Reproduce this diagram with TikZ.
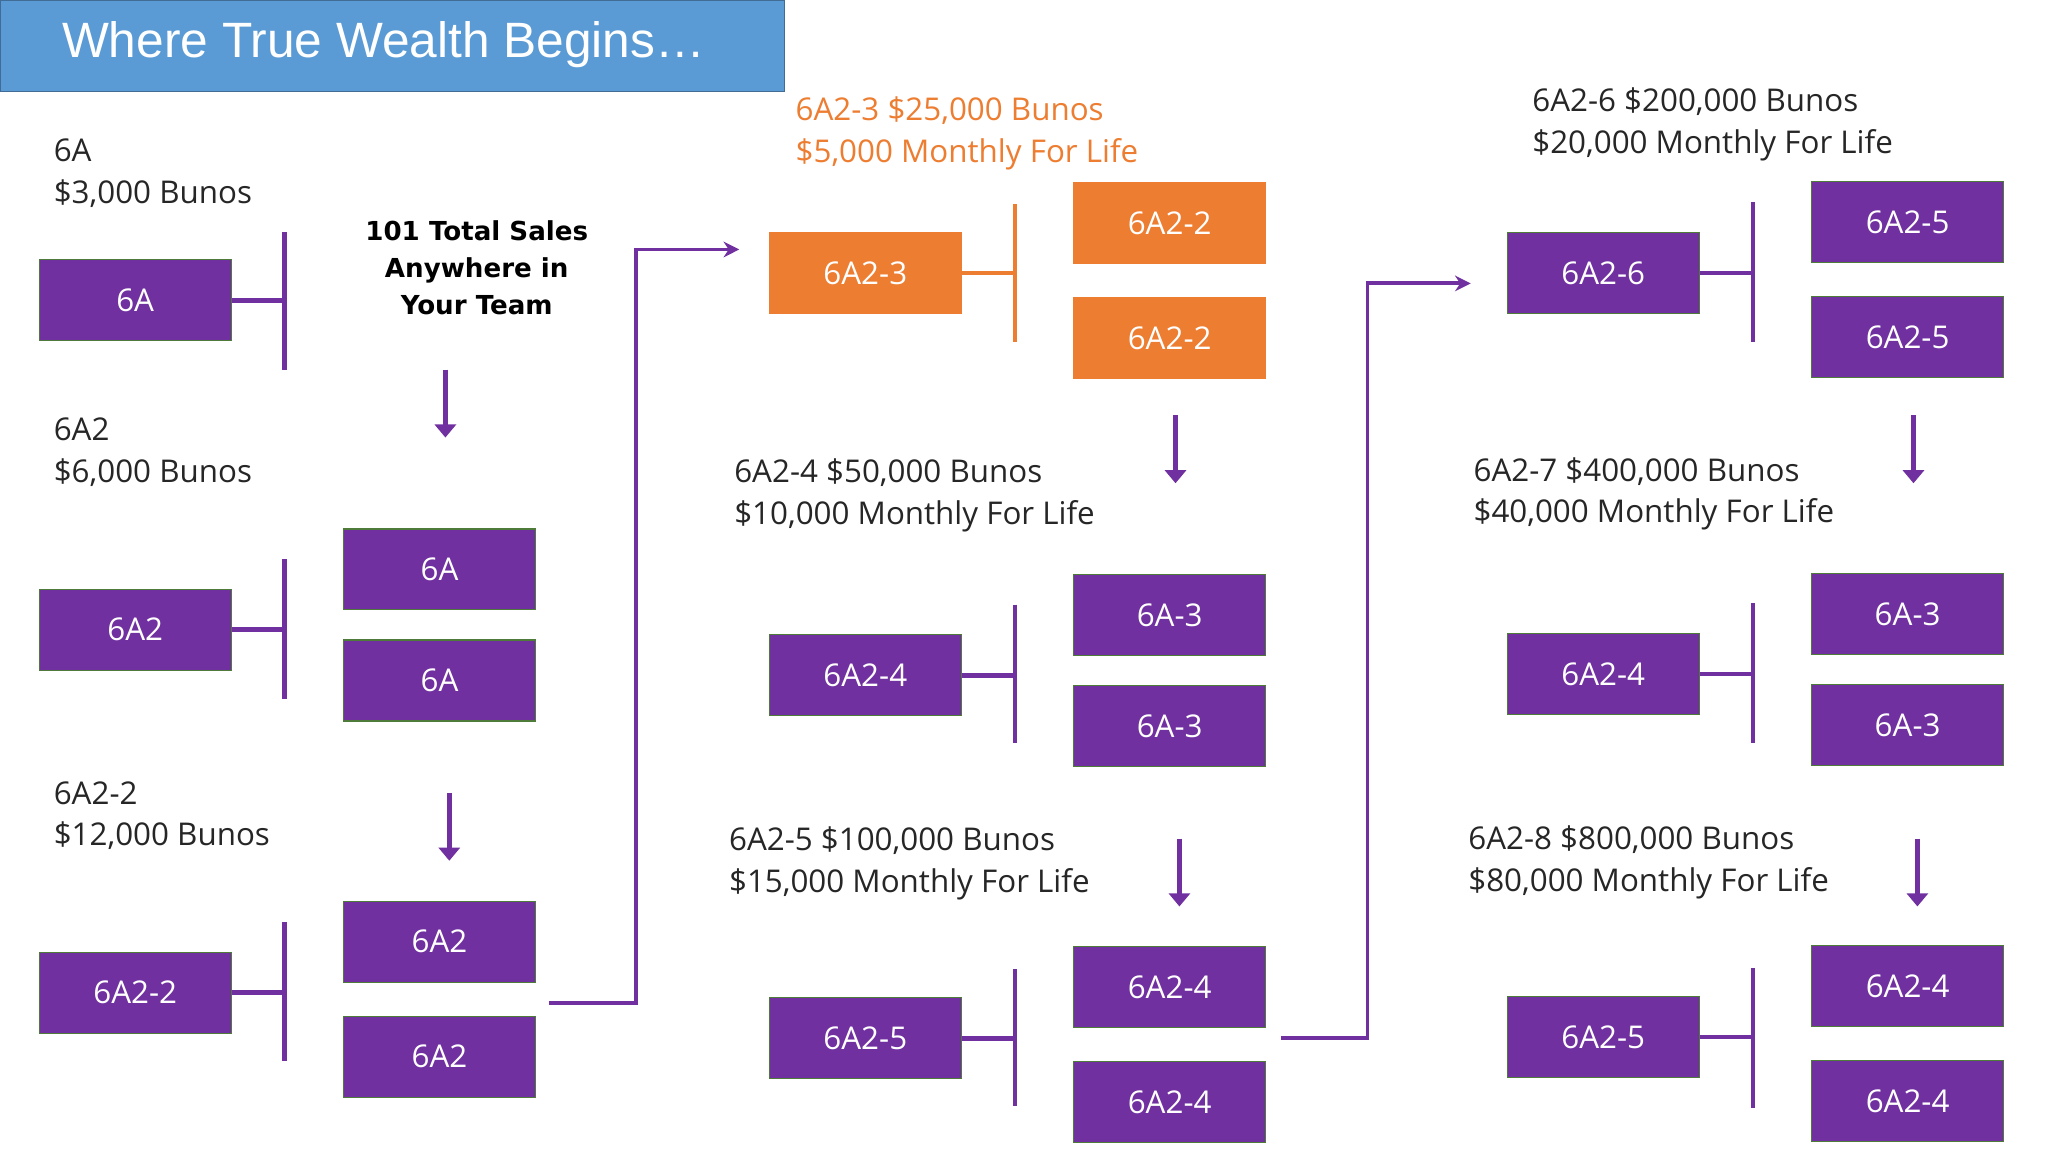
\documentclass[tikz,border=0pt]{standalone}
\usepackage{fontspec}
\setmainfont{Open Sans}
\newfontfamily\titlefont{Liberation Sans}
\newfontfamily\boldfont{DejaVu Sans}
\usetikzlibrary{arrows.meta}
\definecolor{pur}{HTML}{7030A0}
\definecolor{org}{HTML}{ED7D31}
\definecolor{bdr}{HTML}{4E7A3A}
\definecolor{ttl}{HTML}{5B9BD5}
\tikzset{
 bx/.style={draw=bdr,line width=0.8pt,fill=pur,text=white,minimum width=147pt,minimum height=62pt,inner sep=0pt,font=\fontsize{24}{24}\selectfont},
 obx/.style={bx,fill=org,draw=org},
 ln/.style={draw=pur,line width=3.5pt},
 oln/.style={draw=org,line width=3.5pt},
 arr/.style={draw=pur,line width=4pt,-{Triangle[length=10pt,width=16pt]}},
 arrt/.style={draw=pur,line width=3pt,-{Stealth[length=12pt,width=12pt]}},
 lbl/.style={anchor=north west,align=left,inner sep=0pt,text=black!85,font=\fontsize{24}{32}\selectfont},
}
\begin{document}
\begin{tikzpicture}[x=1pt,y=-1pt]
\useasboundingbox (0,0) rectangle (1568,882);
\fill[white] (0,0) rectangle (1568,882);
\node[draw=ttl!70!black,fill=ttl,minimum width=600pt,minimum height=70pt,anchor=north west,inner sep=0pt] (title) at (0,0) {};
\node[anchor=west,text=white,font=\titlefont\fontsize{38}{38}\selectfont] (tt) at (44,34) {Where True Wealth Begins…};
% left column
\node[lbl] (t1) at (41,106) {6A\\\$3,000 Bunos};
\node[bx] (a1) at (103.5,230) {6A};
\coordinate (b1t) at (218,178); \coordinate (b1b) at (218,283); \coordinate (b1m) at (218,230);
\draw[ln] (b1t) -- (b1b); \draw[ln] (a1.east) -- (b1m);
\node[align=center,font=\boldfont\bfseries\fontsize{20}{28}\selectfont] (tot) at (365,205) {101 Total Sales\\Anywhere in\\Your Team};
\coordinate (d1a) at (341,283); \coordinate (d1b) at (341,335);
\draw[arr] (d1a) -- (d1b);
\node[lbl] (t2) at (41,320) {6A2\\\$6,000 Bunos};
\node[bx] (a2) at (103.5,482) {6A2};
\coordinate (b2t) at (218,428); \coordinate (b2b) at (218,535); \coordinate (b2m) at (218,482);
\draw[ln] (b2t) -- (b2b); \draw[ln] (a2.east) -- (b2m);
\node[bx] (a2r1) at (336.5,436) {6A};
\node[bx] (a2r2) at (336.5,521) {6A};
\coordinate (d2a) at (344,607); \coordinate (d2b) at (344,659);
\draw[arr] (d2a) -- (d2b);
\node[lbl] (t3) at (41,598) {6A2-2\\\$12,000 Bunos};
\node[bx] (a3) at (103.5,760) {6A2-2};
\coordinate (b3t) at (218,706); \coordinate (b3b) at (218,812); \coordinate (b3m) at (218,760);
\draw[ln] (b3t) -- (b3b); \draw[ln] (a3.east) -- (b3m);
\node[bx] (a3r1) at (336.5,721) {6A2};
\node[bx] (a3r2) at (336.5,809) {6A2};
\coordinate (c1s) at (420,768); \coordinate (c1a) at (487,768); \coordinate (c1b) at (487,191); \coordinate (c1e) at (566,191);
\draw[arrt] (c1s) -- (c1a) -- (c1b) -- (c1e);
% middle column
\node[lbl,text=org] (m1) at (609,74) {6A2-3 \$25,000 Bunos\\\$5,000 Monthly For Life};
\node[obx] (m1a) at (662.5,209) {6A2-3};
\coordinate (mb1t) at (777,156); \coordinate (mb1b) at (777,262); \coordinate (mb1m) at (777,209);
\draw[oln] (mb1t) -- (mb1b); \draw[oln] (m1a.east) -- (mb1m);
\node[obx] (m1r1) at (895.5,171) {6A2-2};
\node[obx] (m1r2) at (895.5,259) {6A2-2};
\coordinate (md1a) at (900,318); \coordinate (md1b) at (900,370);
\draw[arr] (md1a) -- (md1b);
\node[lbl] (m2) at (562,351) {6A2-4 \$50,000 Bunos\\\$10,000 Monthly For Life};
\node[bx] (m2a) at (662.5,517) {6A2-4};
\coordinate (mb2t) at (777,463); \coordinate (mb2b) at (777,569); \coordinate (mb2m) at (777,517);
\draw[ln] (mb2t) -- (mb2b); \draw[ln] (m2a.east) -- (mb2m);
\node[bx] (m2r1) at (895.5,471) {6A-3};
\node[bx] (m2r2) at (895.5,556) {6A-3};
\coordinate (md2a) at (903,642); \coordinate (md2b) at (903,694);
\draw[arr] (md2a) -- (md2b);
\node[lbl] (m3) at (558,633) {6A2-5 \$100,000 Bunos\\\$15,000 Monthly For Life};
\node[bx] (m3a) at (662.5,795) {6A2-5};
\coordinate (mb3t) at (777,742); \coordinate (mb3b) at (777,847); \coordinate (mb3m) at (777,795);
\draw[ln] (mb3t) -- (mb3b); \draw[ln] (m3a.east) -- (mb3m);
\node[bx] (m3r1) at (895.5,756) {6A2-4};
\node[bx] (m3r2) at (895.5,844) {6A2-4};
\coordinate (c2s) at (981,795); \coordinate (c2a) at (1047,795); \coordinate (c2b) at (1047,217); \coordinate (c2e) at (1126,217);
\draw[arrt] (c2s) -- (c2a) -- (c2b) -- (c2e);
% right column
\node[lbl] (r1) at (1173,67) {6A2-6 \$200,000 Bunos\\\$20,000 Monthly For Life};
\node[bx] (r1a) at (1227.5,209) {6A2-6};
\coordinate (rb1t) at (1342,155); \coordinate (rb1b) at (1342,262); \coordinate (rb1m) at (1342,209);
\draw[ln] (rb1t) -- (rb1b); \draw[ln] (r1a.east) -- (rb1m);
\node[bx] (r1r1) at (1460.5,170) {6A2-5};
\node[bx] (r1r2) at (1460.5,258) {6A2-5};
\coordinate (rd1a) at (1465,318); \coordinate (rd1b) at (1465,370);
\draw[arr] (rd1a) -- (rd1b);
\node[lbl] (r2) at (1128,350) {6A2-7 \$400,000 Bunos\\\$40,000 Monthly For Life};
\node[bx] (r2a) at (1227.5,516) {6A2-4};
\coordinate (rb2t) at (1342,462); \coordinate (rb2b) at (1342,569); \coordinate (rb2m) at (1342,516);
\draw[ln] (rb2t) -- (rb2b); \draw[ln] (r2a.east) -- (rb2m);
\node[bx] (r2r1) at (1460.5,470) {6A-3};
\node[bx] (r2r2) at (1460.5,555) {6A-3};
\coordinate (rd2a) at (1468,642); \coordinate (rd2b) at (1468,694);
\draw[arr] (rd2a) -- (rd2b);
\node[lbl] (r3) at (1124,632) {6A2-8 \$800,000 Bunos\\\$80,000 Monthly For Life};
\node[bx] (r3a) at (1227.5,794) {6A2-5};
\coordinate (rb3t) at (1342,741); \coordinate (rb3b) at (1342,848); \coordinate (rb3m) at (1342,794);
\draw[ln] (rb3t) -- (rb3b); \draw[ln] (r3a.east) -- (rb3m);
\node[bx] (r3r1) at (1460.5,755) {6A2-4};
\node[bx] (r3r2) at (1460.5,843) {6A2-4};
\end{tikzpicture}
\end{document}
